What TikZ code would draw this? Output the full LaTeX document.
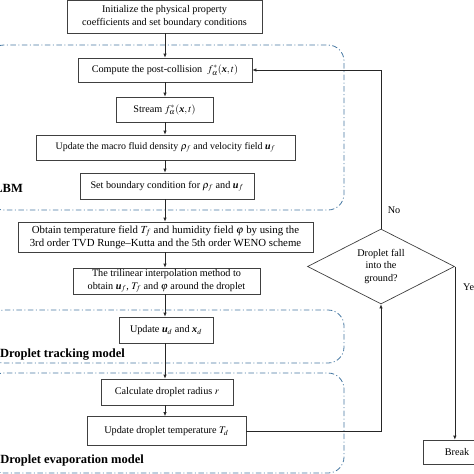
\documentclass[tikz,border=0pt]{standalone}
\usepackage{mathptmx}
\usepackage{fontspec}
\setmainfont{Liberation Serif}
\usetikzlibrary{shapes.geometric,arrows.meta}
\newcommand\bi[1]{\hbox{\textbf{\textit{#1}}}}
\newcommand\fs{\fontsize{10.2}{12.5}\selectfont}
\definecolor{regblue}{RGB}{70,120,162}
\begin{document}
\begin{tikzpicture}[x=1pt,y=-1pt,
  box/.style={draw=black!75, line width=0.7pt, fill=white, align=center, inner sep=0pt, font=\fs},
  arr/.style={draw=black!85, line width=0.7pt, -{Latex[length=4pt,width=3.5pt]}},
  region/.style={draw=regblue, line width=0.8pt, rounded corners=16pt, dash pattern=on 5.5pt off 2.5pt on 1pt off 2.5pt},
  reglabel/.style={font=\fontsize{12.5}{14}\selectfont\bfseries, inner sep=0pt, anchor=east},
  lbl/.style={font=\fs, inner sep=0pt}]
\useasboundingbox (0,0) rectangle (474,474);
% regions
\draw[region] (-12,45) rectangle (344,210);
\draw[region] (-12,310) rectangle (344,363);
\draw[region] (-12,373) rectangle (344,473);
\node[reglabel] (lbmlbl) at (23,188) {LBM};
\node[reglabel] (trklbl) at (125,355) {Droplet tracking model};
\node[reglabel] (evplbl) at (144,460) {Droplet evaporation model};
% boxes
\node[box, minimum width=195pt, minimum height=32.5pt] (init) at (164.5,16.75) {Initialize the physical property\\coefficients and set boundary conditions};
\node[box, minimum width=174pt, minimum height=24pt] (comp) at (165,70) {Compute the post-collision \ $f^{*}_{\alpha}(\bi{x},t)$};
\node[box, minimum width=97pt, minimum height=25pt] (strm) at (164.5,109.5) {Stream $f^{*}_{\alpha}(\bi{x},t)$};
\node[box, minimum width=259pt, minimum height=25pt, font=\fontsize{9.9}{12}\selectfont] (macro) at (165.5,147.5) {Update the macro fluid density $\rho_f$ and velocity field $\bi{u}_f$};
\node[box, minimum width=174pt, minimum height=26pt] (bc) at (167,186) {Set boundary condition for $\rho_f$ and $\bi{u}_f$};
\node[box, minimum width=295pt, minimum height=30pt, font=\fontsize{10.8}{12.8}\selectfont] (obt) at (165.5,237) {Obtain temperature field $T_f$ and humidity field $\varphi$ by using the\\3rd order TVD Runge--Kutta and the 5th order WENO scheme};
\node[box, minimum width=187pt, minimum height=26pt] (tri) at (166.5,281) {The trilinear interpolation method to\\obtain $\bi{u}_f$, $T_f$ and $\varphi$ around the droplet};
\node[box, minimum width=94pt, minimum height=26pt] (upd) at (166,330) {Update $\bi{u}_d$ and $\bi{x}_d$};
\node[box, minimum width=132pt, minimum height=26pt] (calc) at (167,392) {Calculate droplet radius $r$};
\node[box, minimum width=159pt, minimum height=29pt] (temp) at (166.5,431) {Update droplet temperature $T_d$};
\node[box, shape=diamond, aspect=1.96, minimum width=147pt, minimum height=75pt] (dec) at (381,266.5) {Droplet fall\\into the\\ground?};
\node[box, minimum width=68pt, minimum height=24pt] (brk) at (457,452) {Break};
% connectors
\coordinate (ax) at (165,0);
\draw[arr] (init.south -| ax) -- (comp.north -| ax);
\draw[arr] (comp.south -| ax) -- (strm.north -| ax);
\draw[arr] (strm.south -| ax) -- (macro.north -| ax);
\draw[arr] (macro.south -| ax) -- (bc.north -| ax);
\draw[arr] (bc.south -| ax) -- (obt.north -| ax);
\draw[arr] (obt.south -| ax) -- (tri.north -| ax);
\draw[arr] (tri.south -| ax) -- (upd.north -| ax);
\draw[arr] (upd.south -| ax) -- (calc.north -| ax);
\draw[arr] (calc.south -| ax) -- (temp.north -| ax);
\coordinate (c1) at (dec.south |- temp.east);
\draw[arr] (temp.east) -- (c1) -- (dec.south);
\coordinate (c2) at (dec.north |- comp.east);
\draw[arr] (dec.north) -- (c2) -- (comp.east);
\coordinate (c3) at (dec.east |- brk.north);
\draw[arr] (dec.east) -- (c3);
\node[lbl] (no) at (394,210) {No};
\node[lbl, anchor=west] (yes) at (463,287) {Yes};
\end{tikzpicture}
\end{document}
